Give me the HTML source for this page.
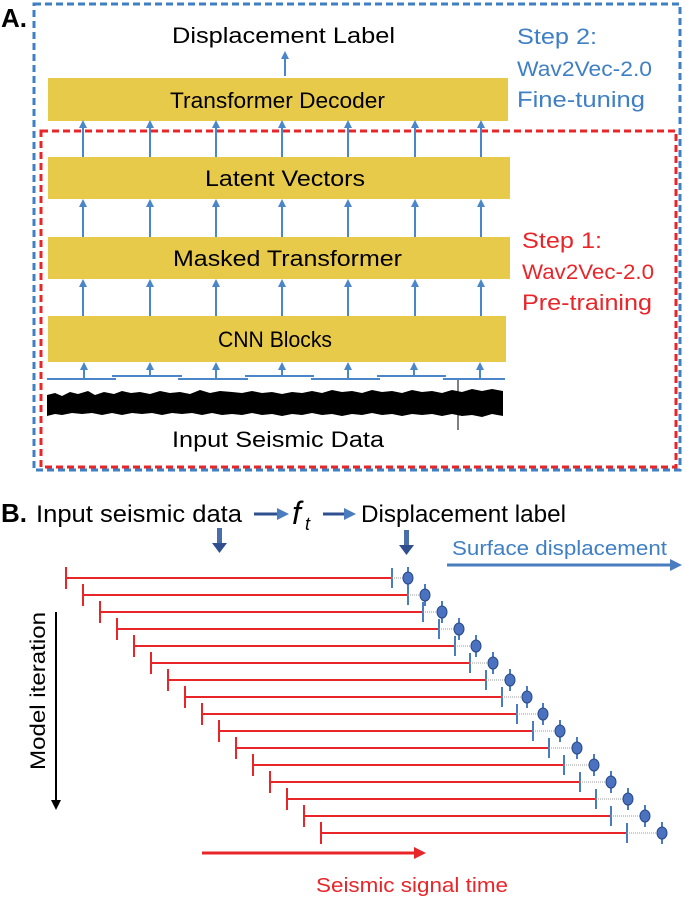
<!DOCTYPE html>
<html><head><meta charset="utf-8"><style>
html,body{margin:0;padding:0;background:#fff;}
svg{display:block;}
text{font-family:"Liberation Sans",sans-serif;}
</style></head><body>
<svg width="685" height="899" viewBox="0 0 685 899" xmlns="http://www.w3.org/2000/svg">
<defs>
<marker id="ba" markerWidth="8" markerHeight="8" refX="4" refY="4" orient="auto" markerUnits="userSpaceOnUse"><path d="M0,0 L8,4 L0,8 z" fill="#4a86c8"/></marker>
<marker id="ra" markerWidth="12" markerHeight="12" refX="6" refY="6" orient="auto" markerUnits="userSpaceOnUse"><path d="M0,0 L12,6 L0,12 z" fill="#e8262a"/></marker>
<marker id="ka" markerWidth="10" markerHeight="10" refX="5" refY="5" orient="auto" markerUnits="userSpaceOnUse"><path d="M0,0 L10,5 L0,10 z" fill="#000"/></marker>
<marker id="bb" markerWidth="12" markerHeight="12" refX="6" refY="6" orient="auto" markerUnits="userSpaceOnUse"><path d="M0,0 L12,6 L0,12 z" fill="#4a7cc0"/></marker>
</defs>
<!-- Section A -->
<text x="1" y="27" font-size="26" font-weight="bold">A.</text>
<rect x="34" y="4" width="646" height="466" fill="none" stroke="#3f7fc4" stroke-width="3" stroke-dasharray="7,4"/>
<rect x="41" y="131" width="635" height="336" fill="none" stroke="#e8262a" stroke-width="3" stroke-dasharray="7,4"/>
<text x="172" y="43" font-size="22" textLength="223" lengthAdjust="spacingAndGlyphs">Displacement Label</text>
<line x1="285" y1="76" x2="285" y2="55" stroke="#4a86c8" stroke-width="2" marker-end="url(#ba)"/>
<text x="517" y="44" font-size="22" fill="#3f7fc4" textLength="80" lengthAdjust="spacingAndGlyphs">Step 2:</text>
<text x="517" y="76" font-size="21" fill="#3f7fc4" textLength="135" lengthAdjust="spacingAndGlyphs">Wav2Vec-2.0</text>
<text x="517" y="107" font-size="22" fill="#3f7fc4" textLength="128" lengthAdjust="spacingAndGlyphs">Fine-tuning</text>
<text x="522" y="248" font-size="22" fill="#e8262a" textLength="80" lengthAdjust="spacingAndGlyphs">Step 1:</text>
<text x="522" y="279" font-size="21" fill="#e8262a" textLength="132" lengthAdjust="spacingAndGlyphs">Wav2Vec-2.0</text>
<text x="522" y="310" font-size="22" fill="#e8262a" textLength="130" lengthAdjust="spacingAndGlyphs">Pre-training</text>
<rect x="48" y="78" width="460" height="43" fill="#e8ca4a"/>
<rect x="48" y="157" width="462" height="42" fill="#e8ca4a"/>
<rect x="48" y="237" width="462" height="42" fill="#e8ca4a"/>
<rect x="48" y="316" width="458" height="46" fill="#e8ca4a"/>
<text x="170" y="108" font-size="22" textLength="215" lengthAdjust="spacingAndGlyphs">Transformer Decoder</text>
<text x="205" y="186" font-size="22" textLength="160" lengthAdjust="spacingAndGlyphs">Latent Vectors</text>
<text x="173" y="266" font-size="22" textLength="229" lengthAdjust="spacingAndGlyphs">Masked Transformer</text>
<text x="218" y="347" font-size="22" textLength="114" lengthAdjust="spacingAndGlyphs">CNN Blocks</text>
<g stroke="#4a86c8" stroke-width="2" marker-end="url(#ba)">
<line x1="83" y1="157" x2="83" y2="124"/><line x1="150" y1="157" x2="150" y2="124"/><line x1="216" y1="157" x2="216" y2="124"/><line x1="282" y1="157" x2="282" y2="124"/><line x1="348" y1="157" x2="348" y2="124"/><line x1="415" y1="157" x2="415" y2="124"/><line x1="481" y1="157" x2="481" y2="124"/>
<line x1="83" y1="237" x2="83" y2="203"/><line x1="150" y1="237" x2="150" y2="203"/><line x1="216" y1="237" x2="216" y2="203"/><line x1="282" y1="237" x2="282" y2="203"/><line x1="348" y1="237" x2="348" y2="203"/><line x1="415" y1="237" x2="415" y2="203"/><line x1="481" y1="237" x2="481" y2="203"/>
<line x1="83" y1="316" x2="83" y2="283"/><line x1="150" y1="316" x2="150" y2="283"/><line x1="216" y1="316" x2="216" y2="283"/><line x1="282" y1="316" x2="282" y2="283"/><line x1="348" y1="316" x2="348" y2="283"/><line x1="415" y1="316" x2="415" y2="283"/><line x1="481" y1="316" x2="481" y2="283"/>
<line x1="84" y1="379" x2="84" y2="366"/><line x1="150" y1="376" x2="150" y2="366"/><line x1="216" y1="379" x2="216" y2="366"/><line x1="282" y1="376" x2="282" y2="366"/><line x1="348" y1="379" x2="348" y2="366"/><line x1="414" y1="376" x2="414" y2="366"/><line x1="480" y1="379" x2="480" y2="366"/>
</g>
<g stroke="#4a86c8" stroke-width="2">
<line x1="47" y1="379" x2="116" y2="379"/><line x1="112" y1="376" x2="182" y2="376"/><line x1="178" y1="379" x2="248" y2="379"/><line x1="245" y1="376" x2="314" y2="376"/><line x1="311" y1="379" x2="380" y2="379"/><line x1="377" y1="376" x2="446" y2="376"/><line x1="443" y1="379" x2="505" y2="379"/>
</g>
<polygon fill="#000" points="47,395 55,393 62,396 70,392 78,394 88,391 95,395 104,392 114,394 122,391 131,393 140,392 150,394 160,391 170,393 180,392 190,394 200,390 210,393 220,391 232,392 242,393 252,391 262,393 272,392 282,394 292,392 302,393 312,391 322,393 332,390 342,392 352,391 362,393 372,390 382,392 392,391 402,393 412,390 422,392 432,391 442,393 452,390 462,392 472,389 482,391 492,389 503,391 503,416 492,414 482,417 472,415 462,416 452,414 442,416 432,414 422,415 412,414 402,416 392,414 382,415 372,413 362,415 352,414 342,416 332,414 322,415 312,413 302,415 292,414 282,416 272,414 262,415 252,413 242,415 232,414 222,415 212,413 202,415 192,413 182,414 172,413 162,415 152,413 142,414 132,413 122,415 112,413 102,415 92,413 82,414 72,413 62,415 55,414 47,416"/>
<line x1="458" y1="380" x2="458" y2="430" stroke="#000" stroke-width="1"/>
<text x="172" y="447" font-size="22" textLength="212" lengthAdjust="spacingAndGlyphs">Input Seismic Data</text>
<!-- Section B -->
<text x="1" y="522" font-size="26" font-weight="bold">B.</text>
<text x="36" y="522" font-size="24" textLength="206" lengthAdjust="spacingAndGlyphs">Input seismic data</text>
<line x1="254" y1="514" x2="283" y2="514" stroke="#2f4f8f" stroke-width="3" marker-end="url(#bb)"/>
<text x="292" y="524" font-size="32" font-style="italic" font-family="Liberation Serif,serif">f</text>
<text x="305" y="530" font-size="18" font-style="italic" font-family="Liberation Serif,serif">t</text>
<line x1="323" y1="514" x2="350" y2="514" stroke="#2f4f8f" stroke-width="3" marker-end="url(#bb)"/>
<text x="361" y="522" font-size="24" textLength="205" lengthAdjust="spacingAndGlyphs">Displacement label</text>
<rect x="217" y="528" width="5" height="16" fill="#4a6fa8"/><path d="M212,543 L227,543 L219.5,553 z" fill="#2f4f8f"/>
<rect x="404" y="530" width="5" height="16" fill="#4a6fa8"/><path d="M399,545 L414,545 L406.5,555 z" fill="#2f4f8f"/>
<text x="452" y="555" font-size="20" fill="#3f7fc4" textLength="215" lengthAdjust="spacingAndGlyphs">Surface displacement</text>
<line x1="447" y1="565" x2="676" y2="565" stroke="#4a7cc0" stroke-width="3" marker-end="url(#bb)"/>
<text transform="translate(45,770) rotate(-90)" font-size="21" textLength="158" lengthAdjust="spacingAndGlyphs">Model iteration</text>
<line x1="56" y1="612" x2="56" y2="805" stroke="#000" stroke-width="2" marker-end="url(#ka)"/>
<line x1="202" y1="853" x2="420" y2="853" stroke="#e8262a" stroke-width="3" marker-end="url(#ra)"/>
<text x="316" y="892" font-size="20" fill="#e8262a" textLength="192" lengthAdjust="spacingAndGlyphs">Seismic signal time</text>
<g id="rows">
<g><line x1="66" y1="578" x2="392" y2="578" stroke="#e8262a" stroke-width="2"/><line x1="66" y1="567" x2="66" y2="589" stroke="#e8262a" stroke-width="2"/><line x1="392" y1="568" x2="392" y2="588" stroke="#4a7cc0" stroke-width="2"/><line x1="392" y1="578" x2="408" y2="578" stroke="#999" stroke-width="1" stroke-dasharray="1,1"/><line x1="408" y1="567" x2="408" y2="589" stroke="#4a7cc0" stroke-width="2"/><ellipse cx="408" cy="578" rx="5" ry="6" fill="#4a72c0" stroke="#2a4a88"/></g>
<g><line x1="83" y1="595" x2="408" y2="595" stroke="#e8262a" stroke-width="2"/><line x1="83" y1="584" x2="83" y2="606" stroke="#e8262a" stroke-width="2"/><line x1="408" y1="585" x2="408" y2="605" stroke="#4a7cc0" stroke-width="2"/><line x1="408" y1="595" x2="425" y2="595" stroke="#999" stroke-width="1" stroke-dasharray="1,1"/><line x1="425" y1="584" x2="425" y2="606" stroke="#4a7cc0" stroke-width="2"/><ellipse cx="425" cy="595" rx="5" ry="6" fill="#4a72c0" stroke="#2a4a88"/></g>
<g><line x1="100" y1="612" x2="423" y2="612" stroke="#e8262a" stroke-width="2"/><line x1="100" y1="601" x2="100" y2="623" stroke="#e8262a" stroke-width="2"/><line x1="423" y1="602" x2="423" y2="622" stroke="#4a7cc0" stroke-width="2"/><line x1="423" y1="612" x2="442" y2="612" stroke="#999" stroke-width="1" stroke-dasharray="1,1"/><line x1="442" y1="601" x2="442" y2="623" stroke="#4a7cc0" stroke-width="2"/><ellipse cx="442" cy="612" rx="5" ry="6" fill="#4a72c0" stroke="#2a4a88"/></g>
<g><line x1="117" y1="629" x2="439" y2="629" stroke="#e8262a" stroke-width="2"/><line x1="117" y1="618" x2="117" y2="640" stroke="#e8262a" stroke-width="2"/><line x1="439" y1="619" x2="439" y2="639" stroke="#4a7cc0" stroke-width="2"/><line x1="439" y1="629" x2="459" y2="629" stroke="#999" stroke-width="1" stroke-dasharray="1,1"/><line x1="459" y1="618" x2="459" y2="640" stroke="#4a7cc0" stroke-width="2"/><ellipse cx="459" cy="629" rx="5" ry="6" fill="#4a72c0" stroke="#2a4a88"/></g>
<g><line x1="134" y1="646" x2="455" y2="646" stroke="#e8262a" stroke-width="2"/><line x1="134" y1="635" x2="134" y2="657" stroke="#e8262a" stroke-width="2"/><line x1="455" y1="636" x2="455" y2="656" stroke="#4a7cc0" stroke-width="2"/><line x1="455" y1="646" x2="476" y2="646" stroke="#999" stroke-width="1" stroke-dasharray="1,1"/><line x1="476" y1="635" x2="476" y2="657" stroke="#4a7cc0" stroke-width="2"/><ellipse cx="476" cy="646" rx="5" ry="6" fill="#4a72c0" stroke="#2a4a88"/></g>
<g><line x1="151" y1="663" x2="470" y2="663" stroke="#e8262a" stroke-width="2"/><line x1="151" y1="652" x2="151" y2="674" stroke="#e8262a" stroke-width="2"/><line x1="470" y1="653" x2="470" y2="673" stroke="#4a7cc0" stroke-width="2"/><line x1="470" y1="663" x2="493" y2="663" stroke="#999" stroke-width="1" stroke-dasharray="1,1"/><line x1="493" y1="652" x2="493" y2="674" stroke="#4a7cc0" stroke-width="2"/><ellipse cx="493" cy="663" rx="5" ry="6" fill="#4a72c0" stroke="#2a4a88"/></g>
<g><line x1="168" y1="680" x2="486" y2="680" stroke="#e8262a" stroke-width="2"/><line x1="168" y1="669" x2="168" y2="691" stroke="#e8262a" stroke-width="2"/><line x1="486" y1="670" x2="486" y2="690" stroke="#4a7cc0" stroke-width="2"/><line x1="486" y1="680" x2="510" y2="680" stroke="#999" stroke-width="1" stroke-dasharray="1,1"/><line x1="510" y1="669" x2="510" y2="691" stroke="#4a7cc0" stroke-width="2"/><ellipse cx="510" cy="680" rx="5" ry="6" fill="#4a72c0" stroke="#2a4a88"/></g>
<g><line x1="185" y1="697" x2="502" y2="697" stroke="#e8262a" stroke-width="2"/><line x1="185" y1="686" x2="185" y2="708" stroke="#e8262a" stroke-width="2"/><line x1="502" y1="687" x2="502" y2="707" stroke="#4a7cc0" stroke-width="2"/><line x1="502" y1="697" x2="527" y2="697" stroke="#999" stroke-width="1" stroke-dasharray="1,1"/><line x1="527" y1="686" x2="527" y2="708" stroke="#4a7cc0" stroke-width="2"/><ellipse cx="527" cy="697" rx="5" ry="6" fill="#4a72c0" stroke="#2a4a88"/></g>
<g><line x1="202" y1="714" x2="517" y2="714" stroke="#e8262a" stroke-width="2"/><line x1="202" y1="703" x2="202" y2="725" stroke="#e8262a" stroke-width="2"/><line x1="517" y1="704" x2="517" y2="724" stroke="#4a7cc0" stroke-width="2"/><line x1="517" y1="714" x2="543" y2="714" stroke="#999" stroke-width="1" stroke-dasharray="1,1"/><line x1="543" y1="703" x2="543" y2="725" stroke="#4a7cc0" stroke-width="2"/><ellipse cx="543" cy="714" rx="5" ry="6" fill="#4a72c0" stroke="#2a4a88"/></g>
<g><line x1="219" y1="731" x2="533" y2="731" stroke="#e8262a" stroke-width="2"/><line x1="219" y1="720" x2="219" y2="742" stroke="#e8262a" stroke-width="2"/><line x1="533" y1="721" x2="533" y2="741" stroke="#4a7cc0" stroke-width="2"/><line x1="533" y1="731" x2="560" y2="731" stroke="#999" stroke-width="1" stroke-dasharray="1,1"/><line x1="560" y1="720" x2="560" y2="742" stroke="#4a7cc0" stroke-width="2"/><ellipse cx="560" cy="731" rx="5" ry="6" fill="#4a72c0" stroke="#2a4a88"/></g>
<g><line x1="236" y1="748" x2="549" y2="748" stroke="#e8262a" stroke-width="2"/><line x1="236" y1="737" x2="236" y2="759" stroke="#e8262a" stroke-width="2"/><line x1="549" y1="738" x2="549" y2="758" stroke="#4a7cc0" stroke-width="2"/><line x1="549" y1="748" x2="577" y2="748" stroke="#999" stroke-width="1" stroke-dasharray="1,1"/><line x1="577" y1="737" x2="577" y2="759" stroke="#4a7cc0" stroke-width="2"/><ellipse cx="577" cy="748" rx="5" ry="6" fill="#4a72c0" stroke="#2a4a88"/></g>
<g><line x1="253" y1="765" x2="564" y2="765" stroke="#e8262a" stroke-width="2"/><line x1="253" y1="754" x2="253" y2="776" stroke="#e8262a" stroke-width="2"/><line x1="564" y1="755" x2="564" y2="775" stroke="#4a7cc0" stroke-width="2"/><line x1="564" y1="765" x2="594" y2="765" stroke="#999" stroke-width="1" stroke-dasharray="1,1"/><line x1="594" y1="754" x2="594" y2="776" stroke="#4a7cc0" stroke-width="2"/><ellipse cx="594" cy="765" rx="5" ry="6" fill="#4a72c0" stroke="#2a4a88"/></g>
<g><line x1="270" y1="782" x2="580" y2="782" stroke="#e8262a" stroke-width="2"/><line x1="270" y1="771" x2="270" y2="793" stroke="#e8262a" stroke-width="2"/><line x1="580" y1="772" x2="580" y2="792" stroke="#4a7cc0" stroke-width="2"/><line x1="580" y1="782" x2="611" y2="782" stroke="#999" stroke-width="1" stroke-dasharray="1,1"/><line x1="611" y1="771" x2="611" y2="793" stroke="#4a7cc0" stroke-width="2"/><ellipse cx="611" cy="782" rx="5" ry="6" fill="#4a72c0" stroke="#2a4a88"/></g>
<g><line x1="287" y1="799" x2="596" y2="799" stroke="#e8262a" stroke-width="2"/><line x1="287" y1="788" x2="287" y2="810" stroke="#e8262a" stroke-width="2"/><line x1="596" y1="789" x2="596" y2="809" stroke="#4a7cc0" stroke-width="2"/><line x1="596" y1="799" x2="628" y2="799" stroke="#999" stroke-width="1" stroke-dasharray="1,1"/><line x1="628" y1="788" x2="628" y2="810" stroke="#4a7cc0" stroke-width="2"/><ellipse cx="628" cy="799" rx="5" ry="6" fill="#4a72c0" stroke="#2a4a88"/></g>
<g><line x1="304" y1="816" x2="611" y2="816" stroke="#e8262a" stroke-width="2"/><line x1="304" y1="805" x2="304" y2="827" stroke="#e8262a" stroke-width="2"/><line x1="611" y1="806" x2="611" y2="826" stroke="#4a7cc0" stroke-width="2"/><line x1="611" y1="816" x2="645" y2="816" stroke="#999" stroke-width="1" stroke-dasharray="1,1"/><line x1="645" y1="805" x2="645" y2="827" stroke="#4a7cc0" stroke-width="2"/><ellipse cx="645" cy="816" rx="5" ry="6" fill="#4a72c0" stroke="#2a4a88"/></g>
<g><line x1="321" y1="833" x2="627" y2="833" stroke="#e8262a" stroke-width="2"/><line x1="321" y1="822" x2="321" y2="844" stroke="#e8262a" stroke-width="2"/><line x1="627" y1="823" x2="627" y2="843" stroke="#4a7cc0" stroke-width="2"/><line x1="627" y1="833" x2="662" y2="833" stroke="#999" stroke-width="1" stroke-dasharray="1,1"/><line x1="662" y1="822" x2="662" y2="844" stroke="#4a7cc0" stroke-width="2"/><ellipse cx="662" cy="833" rx="5" ry="6" fill="#4a72c0" stroke="#2a4a88"/></g>
</g>
</svg>
</body></html>
